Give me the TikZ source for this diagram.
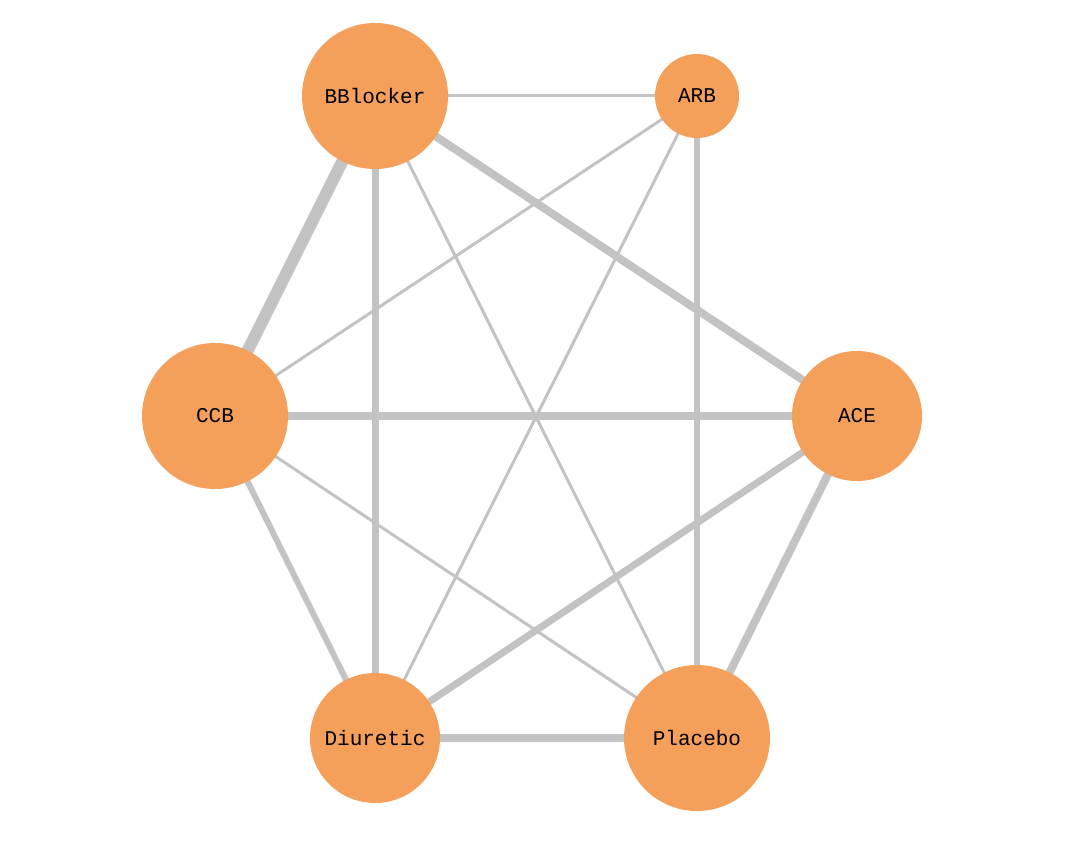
\documentclass[tikz,border=0pt]{standalone}
\usepackage{fontspec}
\setmonofont{Liberation Mono}
\begin{document}
\begin{tikzpicture}[x=1pt,y=-1pt,
  drug/.style={circle,fill=nodeor,inner sep=0pt,font=\ttfamily\fontsize{21}{21}\selectfont},
  ln/.style={draw=edgegr,line width=#1}]
\definecolor{nodeor}{HTML}{F5A05A}
\definecolor{edgegr}{HTML}{C3C3C3}
\useasboundingbox (0,0) rectangle (1080,864);
\coordinate (bb) at (375,96);
\coordinate (arb) at (697,96);
\coordinate (ccb) at (215,416);
\coordinate (ace) at (857,416);
\coordinate (diu) at (375,738);
\coordinate (pla) at (697,738);
\draw[ln=3] (bb)--(arb);
\draw[ln=12] (bb)--(ccb);
\draw[ln=8] (bb)--(ace);
\draw[ln=7] (bb)--(diu);
\draw[ln=3] (bb)--(pla);
\draw[ln=3] (arb)--(ccb);
\draw[ln=3] (arb)--(diu);
\draw[ln=6] (arb)--(pla);
\draw[ln=8] (ccb)--(ace);
\draw[ln=6] (ccb)--(diu);
\draw[ln=3] (ccb)--(pla);
\draw[ln=7] (ace)--(diu);
\draw[ln=8] (ace)--(pla);
\draw[ln=8] (diu)--(pla);
\node[drug,minimum size=146] (nbb) at (bb) {BBlocker};
\node[drug,minimum size=84] (narb) at (arb) {ARB};
\node[drug,minimum size=146] (nccb) at (ccb) {CCB};
\node[drug,minimum size=130] (nace) at (ace) {ACE};
\node[drug,minimum size=130] (ndiu) at (diu) {Diuretic};
\node[drug,minimum size=146] (npla) at (pla) {Placebo};
\end{tikzpicture}
\end{document}
